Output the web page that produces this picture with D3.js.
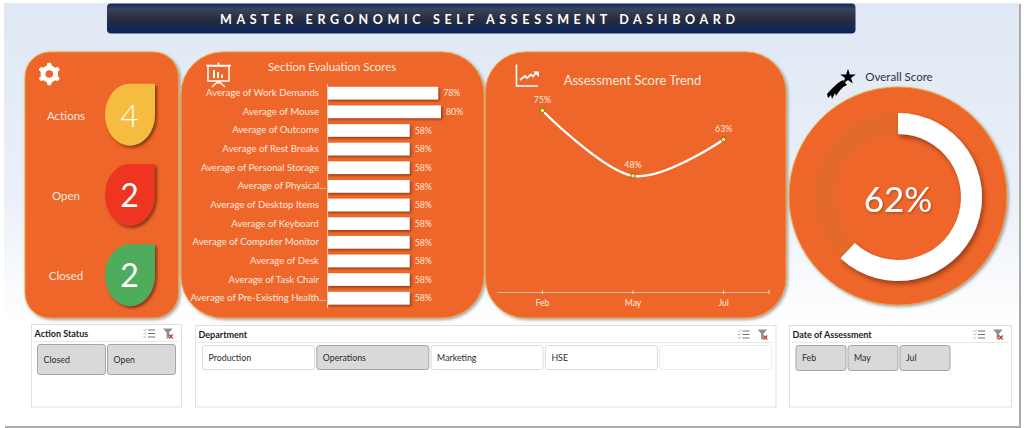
<!DOCTYPE html>
<html>
<head>
<meta charset="utf-8">
<script src="https://cdn.jsdelivr.net/npm/d3@7"></script>
<style>
html,body{margin:0;padding:0;background:#fff;overflow:hidden}
svg{display:block}
text{font-family:Lato,"Open Sans",sans-serif}
</style>
</head>
<body>
<svg id="dash" width="1024" height="428"></svg>
<script>
// Dashboard content
const dashTitle = "MASTER ERGONOMIC SELF ASSESSMENT DASHBOARD";
const statusLabels = ["Actions", "Open", "Closed"];
const statusCounts = [4, 2, 2];
const statusColors = ["#F5BC40", "#EE3423", "#4FAC5B"];

const sectionNames = ["Average of Work Demands", "Average of Mouse", "Average of Outcome",
  "Average of Rest Breaks", "Average of Personal Storage", "Average of Physical...",
  "Average of Desktop Items", "Average of Keyboard", "Average of Computer Monitor",
  "Average of Desk", "Average of Task Chair", "Average of Pre-Existing Health..."];
const sectionScores = [78, 80, 58, 58, 58, 58, 58, 58, 58, 58, 58, 58];

const trendMonths = ["Feb", "May", "Jul"];
const trendScores = [75, 48, 63];
const overallScore = 62;

const actionOptions = ["Closed", "Open"];
const actionSelected = [true, true];
const departmentOptions = ["Production", "Operations", "Marketing", "HSE", ""];
const departmentSelected = [false, true, false, false, false];
const dateOptions = ["Feb", "May", "Jul"];
const dateSelected = [true, true, true];

const ORANGE = "#EF662B";
const PALE = "#FCE9DE";
const svg = d3.select("#dash");
const defs = svg.append("defs");

const bgGrad = defs.append("linearGradient").attr("id", "pageBg").attr("x1", 0).attr("x2", 0).attr("y1", 0).attr("y2", 1);
bgGrad.append("stop").attr("offset", "0%").attr("stop-color", "#DFE8F4");
bgGrad.append("stop").attr("offset", "45%").attr("stop-color", "#EAF0F8");
bgGrad.append("stop").attr("offset", "76%").attr("stop-color", "#FFFFFF");

const barGrad = defs.append("linearGradient").attr("id", "titleBg").attr("x1", 0).attr("x2", 0).attr("y1", 0).attr("y2", 1);
barGrad.append("stop").attr("offset", "0%").attr("stop-color", "#0E2A66");
barGrad.append("stop").attr("offset", "18%").attr("stop-color", "#3A4358");
barGrad.append("stop").attr("offset", "55%").attr("stop-color", "#262C3E");
barGrad.append("stop").attr("offset", "100%").attr("stop-color", "#0A2462");

function shadow(id, dx, dy, blur, color, opacity) {
  defs.append("filter").attr("id", id)
    .attr("x", "-20%").attr("y", "-20%").attr("width", "140%").attr("height", "140%")
    .append("feDropShadow")
    .attr("dx", dx).attr("dy", dy).attr("stdDeviation", blur)
    .attr("flood-color", color).attr("flood-opacity", opacity);
}
shadow("cardShadow", 1.5, 1.5, 1.5, "#555", 0.55);
shadow("barShadow", 1.5, 1.5, 0.8, "#7A3010", 0.85);
shadow("dropShadow", 2, 2, 1.5, "#5A2A10", 0.75);
shadow("ringShadow", 2, 3, 2.5, "#6A2A08", 0.7);
shadow("textShadow", 1, 1, 1, "#6A2A08", 0.55);

// Page backdrop with a heavier frame on the right and bottom
svg.append("rect").attr("x", 5).attr("y", 4).attr("width", 1016).attr("height", 424).attr("fill", "#ABABAB");
svg.append("rect").attr("x", 4).attr("y", 3).attr("width", 1015).attr("height", 423).attr("fill", "url(#pageBg)");

// Title banner
svg.append("rect").attr("x", 107).attr("y", 3.5).attr("width", 748.5).attr("height", 30).attr("rx", 4)
  .attr("fill", "url(#titleBg)");
svg.append("text").attr("x", 220).attr("y", 23.5)
  .attr("fill", "#fff").attr("font-size", 12.5).attr("font-weight", 700)
  .attr("textLength", 515).attr("lengthAdjust", "spacing").text(dashTitle);

// Cards
const cards = [
  { x: 25, w: 153.5, r: 25 },
  { x: 181, w: 303, r: 42 },
  { x: 485.5, w: 300.5, r: 40 }
];
svg.selectAll("rect.card").data(cards).join("rect").attr("class", "card")
  .attr("x", d => d.x).attr("y", 52).attr("width", d => d.w).attr("height", 266)
  .attr("rx", d => d.r).attr("fill", ORANGE)
  .attr("stroke", "#EBA33E").attr("stroke-width", 1).attr("filter", "url(#cardShadow)");

// Gear icon on the status card, built from a polar outline
const gear = d3.lineRadial().curve(d3.curveLinearClosed);
const gearPts = d3.range(48).map(i => {
  const phase = (i % 8) / 8;
  const r = phase < 0.375 ? 10.8 : 8.2;
  return [(i + 0.5) * 2 * Math.PI / 48 - 0.2, r];
});
svg.append("path").attr("transform", "translate(49.3,74)")
  .attr("fill", "#fff").attr("stroke", "#fff").attr("stroke-width", 1).attr("stroke-linejoin", "round")
  .attr("d", gear(gearPts));
svg.append("circle").attr("cx", 49.3).attr("cy", 74).attr("r", 3.8).attr("fill", ORANGE);

// Status counters: teardrop badge with a square top-right corner
const statusY = d3.scalePoint().domain(statusLabels).range([114.7, 275.2]);
function teardrop(w, h) {
  const rx = w / 2, ry = h / 2;
  return `M${rx},${-ry} L${rx},0 A${rx},${ry} 0 1 1 0,${-ry} Z`;
}
const status = svg.selectAll("g.status").data(statusLabels).join("g").attr("class", "status")
  .attr("transform", d => `translate(0,${statusY(d)})`);
status.append("text").attr("x", 66).attr("y", 5).attr("text-anchor", "middle")
  .attr("fill", PALE).attr("font-size", 11.5).text(d => d);
status.append("path").attr("transform", "translate(130,0)")
  .attr("d", teardrop(50, 62)).attr("fill", (d, i) => statusColors[i]).attr("filter", "url(#dropShadow)");
status.append("text").attr("x", 129.5).attr("y", 12).attr("text-anchor", "middle")
  .attr("fill", "#fff").attr("font-size", 32).attr("font-weight", (d, i) => i === 0 ? 300 : 400)
  .text((d, i) => statusCounts[i]);

// Section scores: horizontal bars
const secX = d3.scaleLinear().domain([0, 80]).range([327, 441]);
const secY = d3.scaleBand().domain(sectionNames).range([83.8, 307.5]).paddingInner(0.32).paddingOuter(0.16);
svg.append("text").attr("x", 332).attr("y", 71).attr("text-anchor", "middle")
  .attr("fill", PALE).attr("font-size", 11.4).text("Section Evaluation Scores");
svg.selectAll("rect.secbar").data(sectionScores).join("rect").attr("class", "secbar")
  .attr("x", secX(0)).attr("y", (d, i) => secY(sectionNames[i]))
  .attr("width", d => secX(d) - secX(0)).attr("height", secY.bandwidth())
  .attr("fill", "#fff").attr("filter", "url(#barShadow)");
const secAxis = svg.append("g").attr("transform", "translate(327,0)")
  .call(d3.axisLeft(secY).tickSize(0).tickPadding(8));
secAxis.select(".domain").attr("stroke", "#F6C9B2").attr("stroke-width", 1);
// Truncated names run right up to the axis line
secAxis.selectAll("text").attr("fill", PALE).attr("font-size", 9.6)
  .attr("font-family", "Lato").style("text-anchor", "end")
  .attr("x", d => d.endsWith("...") ? -1 : -8);
svg.selectAll("text.secval").data(sectionScores).join("text").attr("class", "secval")
  .attr("x", d => secX(d) + 5).attr("y", (d, i) => secY(sectionNames[i]) + secY.bandwidth() / 2 + 3.3)
  .attr("fill", PALE).attr("font-size", 8.8).text(d => d + "%");

// Presentation board icon
const board = svg.append("g").attr("fill", "none").attr("stroke", "#fff");
board.append("rect").attr("x", 208).attr("y", 66).attr("width", 21).attr("height", 15).attr("stroke-width", 1.5);
board.append("path").attr("stroke-width", 1.5).attr("d", "M206,65.5H231M218.5,62.5V65.5M218.5,81V84M218.5,81L212,87M218.5,81L225,87");
board.append("path").attr("stroke-width", 2).attr("d", "M214,78V70M218,78V72M222,78V74.5");

// Trend chart
const trendX = d3.scaleBand().domain(trendMonths).range([497, 769]);
const trendMid = m => trendX(m) + trendX.bandwidth() / 2;
const trendY = d3.scaleLinear().domain([0, 75]).range([292, 110.5]);
svg.append("text").attr("x", 632.5).attr("y", 85).attr("text-anchor", "middle")
  .attr("fill", PALE).attr("font-size", 13).text("Assessment Score Trend");
const trendAxis = svg.append("g").attr("transform", "translate(0,292)")
  .call(d3.axisBottom(trendX).tickSize(2).tickSizeOuter(0).tickPadding(6));
trendAxis.select(".domain").attr("stroke", "#F5B79A").attr("stroke-width", 1.2);
trendAxis.selectAll(".tick line").attr("stroke", "#F9D5C2").attr("y1", -2).attr("y2", 2);
trendAxis.selectAll("text").attr("fill", PALE).attr("font-size", 8.6).attr("font-family", "Lato");
trendAxis.append("line").attr("x1", trendX.range()[1]).attr("x2", trendX.range()[1])
  .attr("y1", -2).attr("y2", 2).attr("stroke", "#F9D5C2");

const trendLine = d3.line().x((d, i) => trendMid(trendMonths[i])).y(d => trendY(d)).curve(d3.curveCardinal.tension(0));
svg.append("path").attr("d", trendLine(trendScores)).attr("fill", "none")
  .attr("stroke", "#fff").attr("stroke-width", 2.4).attr("stroke-linecap", "round");
svg.selectAll("circle.pt").data(trendScores).join("circle").attr("class", "pt")
  .attr("cx", (d, i) => trendMid(trendMonths[i])).attr("cy", d => trendY(d)).attr("r", 2.4)
  .attr("fill", "#F3E94A").attr("stroke", "#5C5A20").attr("stroke-width", 0.8);
svg.selectAll("text.ptval").data(trendScores).join("text").attr("class", "ptval")
  .attr("x", (d, i) => trendMid(trendMonths[i])).attr("y", d => trendY(d) - 8).attr("text-anchor", "middle")
  .attr("fill", PALE).attr("font-size", 8.8).text(d => d + "%");

// Chart icon
const chartIcon = svg.append("g").attr("fill", "none").attr("stroke", "#fff");
chartIcon.append("path").attr("stroke-width", 1.6).attr("d", "M516.5,64.5V86H538");
chartIcon.append("path").attr("stroke-width", 1.8).attr("d", "M520,80L525,76L527,78L531,74.5L533,76.5L536,73");
chartIcon.append("path").attr("fill", "#fff").attr("stroke", "none").attr("d", "M533,71.5H539V77Z");

// Overall score
svg.append("text").attr("x", 899).attr("y", 81).attr("text-anchor", "middle")
  .attr("fill", "#2E3440").attr("font-size", 11.5).text("Overall Score");
// Shooting star: a five-point star trailing a streaked tail
svg.append("path").attr("fill", "#000")
  .attr("d", "M843,80 L847,85 C842,87 839,91 836,96 L835,93 L832,99 L831,95 L828,98 L827,94 C832,88 837,83 843,80 Z");
svg.append("path").attr("fill", "#000").attr("transform", "translate(848,77)")
  .attr("d", d3.symbol(d3.symbolStar, 75)());

svg.append("circle").attr("cx", 898).attr("cy", 196).attr("r", 109)
  .attr("fill", ORANGE).attr("stroke", "#EBA33E").attr("filter", "url(#cardShadow)");
const ring = svg.append("g").attr("transform", "translate(898,197)");
const arc = d3.arc().innerRadius(63).outerRadius(84);
const pie = d3.pie().sort(null)([overallScore, 100 - overallScore]);
ring.append("path").attr("d", arc(pie[1])).attr("fill", "#E46A2C");
ring.append("path").attr("d", arc(pie[0])).attr("fill", "#fff").attr("filter", "url(#ringShadow)");
svg.append("text").attr("x", 898).attr("y", 212).attr("text-anchor", "middle")
  .attr("fill", "#fff").attr("font-size", 35).attr("font-weight", 400).attr("filter", "url(#textShadow)").text(overallScore + "%");

// Slicer panels
const panels = [
  { title: "Action Status", x: 31.5, y: 324.5, w: 150, h: 82.5, opts: actionOptions, sel: actionSelected, bx: 37.5, by: 344.5, bw: 68, bh: 30, gap: 2 },
  { title: "Department", x: 195.5, y: 325.5, w: 580.5, h: 81.5, opts: departmentOptions, sel: departmentSelected, bx: 202.5, by: 345.5, bw: 112, bh: 24, gap: 2.3 },
  { title: "Date of Assessment", x: 789.5, y: 325.5, w: 222, h: 81.5, opts: dateOptions, sel: dateSelected, bx: 796, by: 345.5, bw: 50, bh: 25, gap: 2 }
];
panels.forEach(p => {
  const g = svg.append("g");
  g.append("rect").attr("x", p.x).attr("y", p.y).attr("width", p.w).attr("height", p.h)
    .attr("fill", "#fff").attr("stroke", "#DCDFE3").attr("stroke-width", 1);
  g.append("text").attr("x", p.x + 3).attr("y", p.y + 12.5).attr("fill", "#1A1A1A")
    .attr("font-size", 9).attr("font-weight", 700).text(p.title);
  g.append("path").attr("d", `M${p.x + 2},${p.y + 17}H${p.x + p.w - 3}`).attr("stroke", "#E6E8EA").attr("stroke-width", 1.2);
  // Multi-select and clear-filter glyphs
  const ix = p.x + p.w - 38;
  const iy = p.y + 4;
  g.append("path").attr("d", `M${ix + 4.5},${iy + 1.5}h7M${ix + 4.5},${iy + 5}h7M${ix + 4.5},${iy + 8.5}h7`).attr("stroke", "#5F5F5F").attr("stroke-width", 0.9);
  g.append("path").attr("d", `M${ix},${iy + 1.2}l1,1l2,-2M${ix},${iy + 4.7}l1,1l2,-2M${ix},${iy + 8.2}l1,1l2,-2`).attr("fill", "none").attr("stroke", "#7CC464").attr("stroke-width", 0.9);
  g.append("path").attr("d", `M${ix + 19.5},${iy}h9.5l-3.5,4.2v5l-2.4,1v-6.2Z`).attr("fill", "#8F8F8F");
  g.append("path").attr("d", `M${ix + 25.5},${iy + 6}l3.8,4M${ix + 29.3},${iy + 6}l-3.8,4`).attr("stroke", "#CC3A30").attr("stroke-width", 1.3);

  const b = g.selectAll("g.btn").data(p.opts).join("g").attr("class", "btn")
    .attr("transform", (d, i) => `translate(${p.bx + i * (p.bw + p.gap)},${p.by})`);
  b.append("rect").attr("width", p.bw).attr("height", p.bh).attr("rx", 2.5)
    .attr("fill", (d, i) => p.sel[i] ? "#D9D9D9" : "#fff")
    .attr("stroke", (d, i) => p.sel[i] ? "#A6A6A6" : (d ? "#DADADA" : "#EBEBEB")).attr("stroke-width", 1);
  b.append("text").attr("x", 6).attr("y", p.bh / 2 + 3).attr("fill", "#2B2B2B").attr("font-size", 8.8).text(d => d);
});
</script>
</body>
</html>
